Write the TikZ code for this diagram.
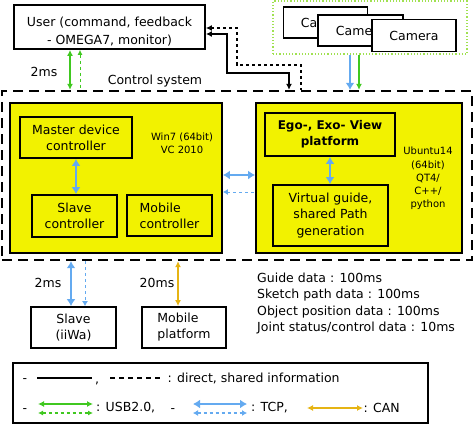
\documentclass[tikz,border=0pt]{standalone}
\usepackage{fontspec}
\setmainfont{DejaVu Sans}
\usepackage{tikz}
\usetikzlibrary{
  arrows.meta,
  calc,
  positioning,
  shapes}

\definecolor{usbgreen}{RGB}{64,200,32}
\definecolor{tcpblue}{RGB}{100,170,240}
\definecolor{cangold}{RGB}{230,180,20}
\definecolor{osyellow}{RGB}{242,242,0}
\definecolor{camgreen}{RGB}{160,225,80}

\tikzset{
  blk/.style={draw,line width=1.8pt,fill=white,align=center,inner sep=0pt,
    font=\fontsize{12.5}{16}\selectfont},
  osbox/.style={draw,line width=1.8pt,fill=osyellow,inner sep=0pt},
  txt/.style={inner sep=0pt,text=black,font=\fontsize{12.5}{16}\selectfont},
  ostxt/.style={inner sep=0pt,align=center,font=\fontsize{10}{13.2}\selectfont},
  usb/.style={usbgreen,line width=1.6pt,>={Latex[length=6pt,width=6pt]}},
  usbd/.style={usbgreen,line width=0.8pt,dashed,>={Latex[length=5pt,width=5pt]}},
  tcp/.style={tcpblue,line width=2.6pt,>={Latex[length=7pt,width=9pt]}},
  tcpd/.style={tcpblue,line width=0.9pt,dashed,>={Latex[length=5pt,width=6pt]}},
  can/.style={cangold,line width=1.3pt,>={Latex[length=6pt,width=6pt]}},
}

\begin{document}
\begin{tikzpicture}[x=1pt,y=-1pt,>={Latex[length=6pt,width=6pt]}]
    \useasboundingbox (0,0) rectangle (474,426);
    \node[draw,line width=2.4pt,dash pattern=on 10pt off 6pt,inner sep=0pt,minimum width=470pt,minimum height=169pt] (ctrl) at (237,175.5) {};
    \node[txt] (ctrllabel) at (155,81) {Control system};
    \node[blk,minimum width=191pt,minimum height=44pt] (user) at (109.5,27) {};
    \node[txt,align=center,font=\fontsize{12.5}{18}\selectfont] (usertext) at (109.5,32) {User (command, feedback\\- OMEGA7, monitor)};
    \node[draw=camgreen,dotted,line width=1.2pt,inner sep=0pt,minimum width=194pt,minimum height=53pt] (cams) at (370,27.5) {};
    \node[blk,minimum width=84pt,minimum height=31pt] (cam1) at (325.5,22.5) {Camera};
    \node[blk,minimum width=85pt,minimum height=31pt] (cam2) at (360.5,30.5) {Camera};
    \node[blk,minimum width=84pt,minimum height=32pt] (cam3) at (414,35.5) {Camera};
    \node[osbox,minimum width=212pt,minimum height=150pt] (win) at (116,178) {};
    \node[osbox,minimum width=206pt,minimum height=150pt] (ubu) at (359,178) {};
    \node[ostxt] (wintext) at (182,143.5) {Win7 (64bit)\\VC 2010};
    \node[ostxt] (ubutext) at (428,178.5) {Ubuntu14\\(64bit)\\QT4/\\C++/\\python};
    \node[blk,fill=osyellow,minimum width=112pt,minimum height=41pt] (master) at (76,137.5) {Master device\\controller};
    \node[blk,fill=osyellow,minimum width=85pt,minimum height=42pt] (slavectl) at (74.5,216) {Slave\\controller};
    \node[blk,fill=osyellow,align=left,minimum width=85pt,minimum height=41pt] (mobilectl) at (169.5,215.5) {Mobile\\controller};
    \node[blk,fill=osyellow,font=\fontsize{12}{16}\selectfont\bfseries,minimum width=130pt,minimum height=43pt] (ego) at (330,134.5) {Ego-, Exo- View\\platform};
    \node[blk,fill=osyellow,font=\fontsize{12.5}{16.5}\selectfont,minimum width=115pt,minimum height=61pt] (vguide) at (330.5,215.5) {Virtual guide,\\shared Path\\generation};
    \node[blk,minimum width=85pt,minimum height=41pt] (slave) at (73.5,327.5) {Slave\\(iiWa)};
    \node[blk,align=left,minimum width=84pt,minimum height=41pt] (mobile) at (184,327.5) {Mobile\\platform};
    \node[txt] (ms1) at (44,72) {2ms};
    \node[txt] (ms2) at (48,283) {2ms};
    \node[txt] (ms3) at (157,283) {20ms};
    \node[txt,anchor=north west,align=left,font=\fontsize{12.5}{16.4}\selectfont] (times) at (257,272.5) {Guide data : 100ms\\Sketch path data : 100ms\\Object position data : 100ms\\Joint status/control data : 10ms};
    \coordinate (u1) at ([xshift=-39.5pt]user.south);
    \coordinate (u2) at ([xshift=-29.5pt]user.south);
    \draw[usb,<->] (u1) -- (u1 |- ctrl.north);
    \draw[usbd,<-] (u2) -- (u2 |- ctrl.north);
    \draw[line width=1.3pt,<->] ([yshift=-7pt]user.east) -| (227,73) -| ([xshift=52pt]ctrl.north);
    \draw[line width=1.1pt,dashed,<-] ([yshift=-1pt]user.east) -| (237,65) -| ([xshift=64pt]ctrl.north);
    \coordinate (c1) at ([xshift=-20pt]cams.south);
    \coordinate (c2) at ([xshift=-11pt]cams.south);
    \draw[tcp,->] (c1) -- (c1 |- ctrl.north);
    \draw[usb,->] (c2) -- (c2 |- ctrl.north);
    \draw[tcp,<->] (master.south) -- (master.south |- slavectl.north);
    \draw[tcp,<->] (ego.south) -- (ego.south |- vguide.north);
    \draw[tcp,<->] ([yshift=3pt]win.east) -- ([yshift=3pt]ubu.west);
    \draw[tcpd,<-] ([yshift=-14pt]win.east) -- ([yshift=-14pt]ubu.west);
    \coordinate (s1) at ([xshift=-2.5pt]slave.north);
    \coordinate (s2) at ([xshift=11.5pt]slave.north);
    \coordinate (m1) at ([xshift=-6pt]mobile.north);
    \draw[tcp,<->] (s1) -- (s1 |- ctrl.south);
    \draw[tcpd,->] (s2 |- ctrl.south) -- (s2);
    \draw[can,<->] (m1) -- (m1 |- ctrl.south);
    \node[draw,line width=1.6pt,inner sep=0pt,minimum width=415pt,minimum height=60pt] (legend) at (220.5,393) {};
    \node[txt,anchor=base] (dash1) at (25,382.5) {-};
    \draw[line width=1.4pt] (37,378) -- (92,378);
    \node[txt,anchor=base] (comma) at (97,383) {,};
    \draw[line width=1.4pt,dash pattern=on 5pt off 4pt] (110,378) -- (163,378) node[txt,right=4pt] {: direct, shared information};
    \node[txt,anchor=base] (dash2) at (25,412.5) {-};
    \draw[usb,<->] (38,404) -- (93,404);
    \draw[usbd,line width=1.2pt,<->] (38,413) -- (93,413);
    \node[txt,right=3pt of {(93,408)}] (usbtext) {: USB2.0,};
    \node[txt,anchor=base] (dash3) at (173,412.5) {-};
    \draw[tcp,<->] (193,404) -- (247,404);
    \draw[tcpd,line width=1.2pt,<->] (193,413) -- (247,413);
    \node[txt,right=4pt of {(247,408)}] (tcptext) {: TCP,};
    \draw[can,<->] (307,408) -- (363,408) node[txt,right=0pt] {: CAN};
\end{tikzpicture}
\end{document}
